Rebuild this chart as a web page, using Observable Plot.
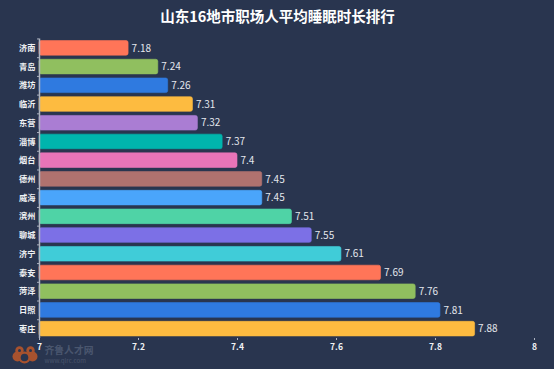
<!DOCTYPE html>
<html><head><meta charset="utf-8">
<script src="https://cdn.jsdelivr.net/npm/d3@7"></script>
<script src="https://cdn.jsdelivr.net/npm/@observablehq/plot@0.6"></script>
<style>html,body{margin:0;padding:0;background:#29354f;overflow:hidden}</style>
</head><body><div id="c"></div>
<script>
const cities = ["济南","青岛","潍坊","临沂","东营","淄博","烟台","德州","威海","滨州","聊城","济宁","泰安","菏泽","日照","枣庄"];
const hours = [7.18,7.24,7.26,7.31,7.32,7.37,7.4,7.45,7.45,7.51,7.55,7.61,7.69,7.76,7.81,7.88];
const barColors = ["#ff7558","#90bf5f","#2f7ae0","#fdbb40","#aa7dd3","#00b5ad","#e874b8","#b0726f","#4aa5fb","#4fd3a6","#7c70e6","#40ccd8","#ff7558","#90bf5f","#2f7ae0","#fdbb40"];
const xTicks = [7,7.2,7.4,7.6,7.8,8];
const tickFmt = d => String(d);
const rows = cities.map((c,i)=>({city:c,value:hours[i],color:barColors[i]}));
const font = '"Noto Sans CJK SC","Noto Sans",sans-serif';
const bg = "#29354f", frog = "#a8522e";
const anchored = (dx,dy,r,fill) => Plot.dot([0],{frameAnchor:"bottom-left",dx,dy,r,fill});
const plot = Plot.plot({
  width:554,height:369,marginTop:38.5,marginBottom:31,marginLeft:39,marginRight:20,
  style:{background:bg,fontFamily:font,overflow:"visible"},
  x:{domain:[7,8],ticks:xTicks,label:null,tickFormat:tickFmt},
  y:{domain:cities,label:null,paddingInner:0.22,paddingOuter:0.11,align:0.5,round:false},
  marks:[
    Plot.barX(rows,{y:"city",x1:()=>7,x2:"value",fill:"color",stroke:"color",strokeOpacity:0.6,strokeWidth:1,r:2}),
    Plot.text(rows,{y:"city",x:"value",text:d=>String(d.value),dx:3,textAnchor:"start",fill:"#e4e7ed",fontSize:10}),
    Plot.ruleY(cities,{y:d=>d,x1:()=>6.996,x2:()=>7,dy:-9.4,stroke:"#aeb4c0"}),
    Plot.ruleX([7],{stroke:"#aeb4c0",strokeWidth:1.5}),
    Plot.ruleY([0],{frameAnchor:"bottom",stroke:"#aeb4c0",strokeWidth:1.5}),
    Plot.axisX({tickSize:2,tickPadding:3,stroke:"#aeb4c0",fill:"#f0f2f5",fontSize:8.5,fontWeight:"bold",values:xTicks,tickFormat:tickFmt}),
    Plot.axisY({tickSize:0,tickPadding:4,fill:"#f0f2f5",fontSize:8.2,fontWeight:"bold"}),
    Plot.text(["山东16地市职场人平均睡眠时长排行"],{frameAnchor:"top",dx:-9.5,dy:-27.5,fill:"#ffffff",fontSize:14.5,fontWeight:"bold"}),
    Plot.text(["齐鲁人才网"],{frameAnchor:"bottom-left",dx:5,dy:15,textAnchor:"start",fill:"#4a566e",fontSize:9.8,fontWeight:"bold"}),
    Plot.text(["www.qlrc.com"],{frameAnchor:"bottom-left",dx:5,dy:24,textAnchor:"start",fill:"#4a566e",fontSize:6.2,style:{letterSpacing:"1.2px"}}),
    anchored(-20,12,4.2,frog),
    anchored(-9,12,4.2,frog),
    anchored(-22,18,5,frog),
    anchored(-15,19,6,frog),
    anchored(-7,18,5,frog),
    anchored(-15,19,3.8,bg),
    anchored(-20,12,1.5,bg),
    anchored(-9,12,1.5,bg)
  ]
});
document.getElementById("c").append(plot);
</script></body></html>
